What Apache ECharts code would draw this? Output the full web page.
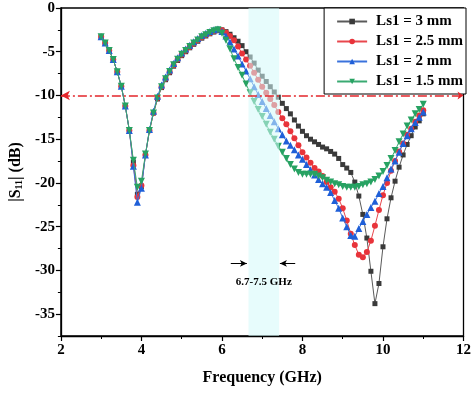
<!DOCTYPE html>
<html><head><meta charset="utf-8">
<script src="https://cdn.jsdelivr.net/npm/echarts@6/dist/echarts.min.js"></script>
<style>html,body{margin:0;padding:0;background:#fff}#c{width:474px;height:394px}</style>
</head><body><div id="c"></div>
<script>
const freq = [3.0,3.1,3.2,3.3,3.4,3.5,3.6,3.7,3.8,3.9,4.0,4.1,4.2,4.3,4.4,4.5,4.6,4.7,4.8,4.9,5.0,5.1,5.2,5.3,5.4,5.5,5.6,5.7,5.8,5.9,
6.0,6.1,6.2,6.3,6.4,6.5,6.6,6.7,6.8,6.9,7.0,7.1,7.2,7.3,7.4,7.5,7.6,7.7,7.8,7.9,8.0,8.1,8.2,8.3,8.4,8.5,8.6,8.7,8.8,8.9,
9.0,9.1,9.2,9.3,9.4,9.5,9.6,9.7,9.8,9.9,10.0,10.1,10.2,10.3,10.4,10.5,10.6,10.7,10.8,10.9,11.0];
const ls3 = [-3.3,-4.0,-4.85,-5.9,-7.3,-8.95,-11.2,-14.0,-17.6,-21.3,-20.4,-16.8,-14.0,-12.0,-10.4,-9.1,-8.2,-7.4,-6.65,-6.0,-5.45,-5.0,-4.55,-4.15,-3.8,-3.45,-3.2,-2.95,-2.75,-2.6,
-2.5,-2.7,-3.0,-3.4,-3.8,-4.3,-5.0,-5.6,-6.3,-7.1,-7.8,-8.4,-9.0,-9.6,-10.2,-10.9,-11.5,-12.1,-12.8,-13.5,
-14.1,-14.6,-15.0,-15.3,-15.6,-15.9,-16.1,-16.4,-16.7,-17.2,-17.9,-18.3,-18.8,-19.9,-21.5,-23.6,-26.3,-30.1,-33.8,-31.5,
-27.3,-24.1,-21.7,-19.8,-18.2,-16.8,-15.6,-14.6,-13.6,-12.9,-12.1];
const ls25 = [-3.3,-4.0,-4.85,-5.9,-7.3,-8.95,-11.2,-14.0,-18.0,-21.6,-20.3,-16.8,-14.0,-12.0,-10.3,-9.0,-8.1,-7.3,-6.55,-5.9,-5.35,-4.9,-4.45,-4.05,-3.7,-3.35,-3.1,-2.85,-2.65,-2.5,
-2.55,-2.8,-3.2,-3.7,-4.4,-5.2,-5.9,-6.6,-7.4,-8.2,-9.0,-9.7,-10.4,-11.1,-11.9,-12.6,-13.3,-14.1,-14.9,-15.7,
-16.5,-17.1,-17.7,-18.3,-18.7,-19.2,-19.9,-20.5,-21.0,-21.8,-22.9,-24.3,-25.8,-27.1,-28.2,-28.5,-27.9,-26.6,-24.9,-23.1,
-21.4,-20.0,-18.6,-17.5,-16.4,-15.5,-14.5,-13.8,-13.0,-12.3,-11.7];
const ls2 = [-3.3,-4.0,-4.85,-5.9,-7.3,-8.95,-11.2,-14.0,-18.1,-22.2,-20.6,-16.8,-13.9,-11.8,-10.1,-8.8,-7.9,-7.1,-6.35,-5.7,-5.15,-4.7,-4.25,-3.85,-3.5,-3.15,-2.9,-2.7,-2.5,-2.4,
-2.7,-3.2,-3.9,-4.7,-5.5,-6.4,-7.2,-8.1,-9.0,-9.9,-10.7,-11.5,-12.3,-13.0,-13.8,-14.5,-15.2,-15.7,-16.2,-16.8,
-17.3,-17.9,-18.5,-19.1,-19.6,-20.1,-20.5,-21.1,-22.0,-22.9,-24.0,-25.0,-26.0,-26.1,-25.2,-24.4,-23.6,-22.8,-22.1,-21.2,
-20.4,-19.4,-18.4,-17.5,-16.5,-15.5,-14.6,-13.8,-13.1,-12.5,-11.9];
const ls15 = [-3.3,-4.0,-4.85,-5.9,-7.3,-8.95,-11.2,-14.0,-17.4,-20.5,-19.8,-16.7,-14.0,-12.0,-10.3,-9.0,-8.1,-7.25,-6.5,-5.85,-5.3,-4.85,-4.4,-4.0,-3.65,-3.3,-3.05,-2.8,-2.6,-2.5,
-2.9,-3.7,-4.7,-5.8,-6.8,-7.7,-8.7,-9.7,-10.7,-11.6,-12.4,-13.3,-14.2,-15.0,-15.8,-16.5,-17.2,-17.9,-18.4,-18.8,
-19.0,-19.0,-19.0,-19.0,-19.2,-19.4,-19.7,-19.9,-20.1,-20.2,-20.4,-20.5,-20.5,-20.5,-20.4,-20.2,-20.1,-19.9,-19.6,-19.2,
-18.7,-18.0,-17.2,-16.3,-15.3,-14.4,-13.5,-12.8,-12.1,-11.6,-11.0];
const seriesNames = ['Ls1 = 3 mm','Ls1 = 2.5 mm','Ls1 = 2 mm','Ls1 = 1.5 mm'];
const xTicks = [2,4,6,8,10,12];
const yTicks = [0,-5,-10,-15,-20,-25,-30,-35];
const yMinorTicks = [-2.5,-7.5,-12.5,-17.5,-22.5,-27.5,-32.5,-37.5];
const refLevel = -10;
const band = [6.66, 7.42];
const bandLabel = '6.7-7.5 GHz';
const arrowY = -29.2;
const labelY = -31.3;

const FONT = '"Liberation Serif","Times New Roman",serif';
const pairs = arr => freq.map((f,i)=>[f,arr[i]]);
const styles = [
  {line:'#5a5a5a', mark:'#3a3a3a', symbol:'rect', size:5, rot:0},
  {line:'#e8474d', mark:'#e8333a', symbol:'circle', size:6, rot:0},
  {line:'#3a72dc', mark:'#1f5fd8', symbol:'triangle', size:7, rot:0},
  {line:'#3aaa72', mark:'#27a262', symbol:'triangle', size:7, rot:180}
];
const dataSets = [ls3, ls25, ls2, ls15];
const series = dataSets.map((d,i)=>({
  name: seriesNames[i], type:'line', data: pairs(d),
  symbol: styles[i].symbol, symbolSize: styles[i].size, symbolRotate: styles[i].rot,
  showAllSymbol: true,
  lineStyle:{color:styles[i].line, width:1},
  itemStyle:{color:styles[i].mark},
  z: 2 + i
}));
const red = '#e3262b';
series.push({
  type:'line', data: [], silent:true,
  markArea:{ z: 10, silent:true, itemStyle:{color:'rgb(212,249,249)', opacity:0.55},
    data:[[{xAxis:band[0]},{xAxis:band[1]}]] },
  markLine:{ z: 12, silent:true, animation:false,
    data:[
      [{coord:[2,refLevel], symbol:'arrow', symbolSize:[7,9], lineStyle:{color:red, width:1.5, type:[9,3,2,3]}, itemStyle:{color:red}},
       {coord:[12,refLevel], symbol:'arrow', symbolSize:[6,6], itemStyle:{color:red}}],
      [{coord:[6.22,arrowY], symbol:'none'},{coord:[band[0]-0.04,arrowY], symbol:'arrow', symbolSize:[5,7]}],
      [{coord:[7.82,arrowY], symbol:'none'},{coord:[band[1]+0.02,arrowY], symbol:'arrow', symbolSize:[5,7]}]
    ],
    lineStyle:{color:'#000', width:1, type:'solid'},
    label:{show:false}
  },
  markPoint:{ z: 12, silent:true, symbol:'circle', symbolSize:1, itemStyle:{color:'rgba(0,0,0,0)'},
    data:[{coord:[7.04,labelY]}],
    label:{show:true, position:'inside', formatter: bandLabel, color:'#000', fontWeight:'bold', fontSize:11, fontFamily:FONT}
  }
});

const chart = echarts.init(document.getElementById('c'), null, {renderer:'canvas'});
chart.setOption({
  animation:false,
  backgroundColor:'#fff',
  grid:{left:57, right:9, top:8, bottom:58, show:true, borderColor:'#000', borderWidth:1.3, backgroundColor:'transparent'},
  legend:{
    data: seriesNames, orient:'vertical', right:8, top:8,
    backgroundColor:'#fff', borderColor:'#000', borderWidth:1,
    padding:[6,3,5,12], itemGap:5, itemWidth:30, itemHeight:7,
    textStyle:{fontFamily:FONT, fontWeight:'bold', fontSize:15, color:'#000', padding:[0,0,0,4]}
  },
  xAxis:{
    type:'value', min:2, max:12, interval:2,
    name:'Frequency (GHz)', nameLocation:'middle', nameGap:34,
    nameTextStyle:{fontFamily:FONT, fontWeight:'bold', fontSize:16, color:'#000'},
    axisLine:{show:true, onZero:false, lineStyle:{color:'#000', width:1.3}},
    axisTick:{show:true, inside:false, length:5, lineStyle:{color:'#000', width:1.2}},
    minorTick:{show:true, splitNumber:2, length:3, lineStyle:{color:'#000', width:1}},
    axisLabel:{fontFamily:FONT, fontWeight:'bold', fontSize:15, color:'#000', margin:7},
    splitLine:{show:false}
  },
  yAxis:[{
    type:'value', min:-37.5, max:0,
    name:'|S{sub|11}| (dB)', nameLocation:'middle', nameGap:36,
    nameTextStyle:{fontFamily:FONT, fontWeight:'bold', fontSize:16, color:'#000',
      rich:{sub:{fontFamily:FONT, fontWeight:'bold', fontSize:10, color:'#000', verticalAlign:'bottom', lineHeight:8}}},
    axisLine:{show:true, onZero:false, lineStyle:{color:'#000', width:1.3}},
    axisTick:{show:true, length:5, customValues: yTicks, lineStyle:{color:'#000', width:1.2}},
    axisLabel:{customValues: yTicks, fontFamily:FONT, fontWeight:'bold', fontSize:15, color:'#000', margin:6},
    splitLine:{show:false}
  },{
    type:'value', min:-37.5, max:0, position:'left',
    axisLine:{show:false},
    axisTick:{show:true, length:3, customValues: yMinorTicks, lineStyle:{color:'#000', width:1}},
    axisLabel:{show:false},
    splitLine:{show:false}
  }],
  series: series
});
</script></body></html>
